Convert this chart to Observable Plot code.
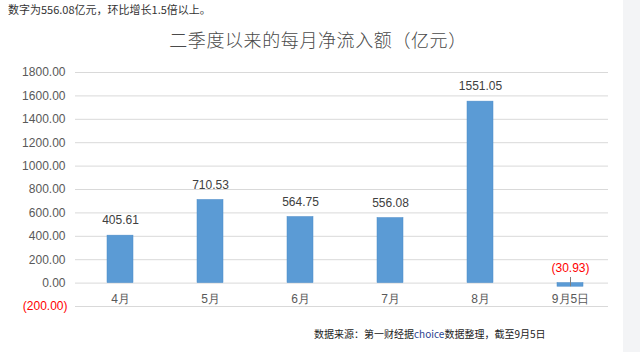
<!DOCTYPE html>
<html><head><meta charset="utf-8">
<script src="https://cdn.jsdelivr.net/npm/d3@7"></script>
<script src="https://cdn.jsdelivr.net/npm/@observablehq/plot@0.6"></script>
<style>
html,body{margin:0;padding:0;background:#fff;width:640px;height:352px;overflow:hidden;font-family:"Noto Sans CJK SC","Liberation Sans",sans-serif;}
#wrap{position:relative;width:640px;height:352px;}
#strip{position:absolute;left:623px;top:0;width:17px;height:352px;background:#f3f4f6;}
#intro{position:absolute;left:8px;top:1px;font-size:11px;color:#333;white-space:nowrap;line-height:16px;}
#title{position:absolute;left:0;width:636px;top:27px;text-align:center;font-size:18px;color:#4a4a4a;letter-spacing:0.6px;line-height:24px;font-weight:300;}
#note{position:absolute;left:314px;top:326px;font-size:10px;color:#222;white-space:nowrap;line-height:16px;}
#chart{position:absolute;left:0;top:0;}
</style></head>
<body><div id="wrap">
<div id="chart"></div>
<div id="strip"></div>
<div id="intro">数字为556.08亿元，环比增长1.5倍以上。</div>
<div id="title">二季度以来的每月净流入额（亿元）</div>
<div id="note">数据来源：第一财经据<span style="color:#2a3f8f">choice</span>数据整理，截至9月5日</div>
</div>
<script>
const months = ["4月","5月","6月","7月","8月","9月5日"];
const values = [405.61, 710.53, 564.75, 556.08, 1551.05, -30.93];
const yTicks = [-200, 0, 200, 400, 600, 800, 1000, 1200, 1400, 1600, 1800];

const data = months.map((m, i) => ({month: m, value: values[i]}));
const fmt = v => v < 0 ? `(${Math.abs(v).toFixed(2)})` : v.toFixed(2);
const font = "Liberation Sans, Arial, sans-serif";

const chart = Plot.plot({
  width: 640,
  height: 352,
  marginTop: 72,
  marginBottom: 46,
  marginLeft: 75,
  marginRight: 32,
  style: {fontFamily: font, background: "transparent"},
  x: {domain: months, range: [75, 615], paddingInner: 0.71, paddingOuter: 0.355, axis: null},
  y: {domain: [-200, 1800], axis: null},
  marks: [
    Plot.ruleY(yTicks, {stroke: "#d9d9d9", strokeWidth: 1}),
    Plot.barY(data, {x: "month", y: "value", fill: "#5b9bd5", stroke: "#4a8ac8", strokeWidth: 0.5}),
    Plot.ruleX(data.filter(d => d.value < 0), {x: "month", y1: 48, y2: "value", stroke: "#7f7f7f", strokeWidth: 1}),
    Plot.text(yTicks.filter(v => v >= 0), {y: d => d, text: fmt, frameAnchor: "left", textAnchor: "end", dx: -10, fill: "#595959", fontSize: 12}),
    Plot.text(yTicks.filter(v => v < 0), {y: d => d, text: fmt, frameAnchor: "left", textAnchor: "end", dx: -8, fill: "#ff0000", fontSize: 12}),
    Plot.text(data.filter(d => d.value >= 0), {x: "month", y: "value", text: d => fmt(d.value), dy: -15, fill: "#404040", fontSize: 12}),
    Plot.text(data.filter(d => d.value < 0), {x: "month", y: 0, text: d => fmt(d.value), dy: -15, fill: "#ff0000", fontSize: 12}),
    Plot.text(data, {x: "month", y: 0, text: "month", dy: 16, fill: "#595959", fontSize: 12})
  ]
});
document.getElementById("chart").appendChild(chart);
</script>
</body></html>
